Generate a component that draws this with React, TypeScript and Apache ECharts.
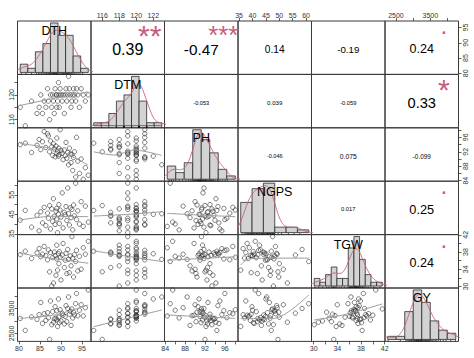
import React, { useEffect, useRef } from "react";
import * as echarts from "echarts";

const varNames = ["DTH", "DTM", "PH", "NGPS", "TGW", "GY"];

const DTH = [80.3, 81.5, 83.0, 84.3, 84.8, 85.2, 85.6, 86.0, 86.4, 86.8, 87.0, 87.3, 87.5, 87.8, 88.0, 88.2, 88.4, 88.6, 88.8, 89.0, 89.0, 89.2, 89.4, 89.5, 89.6, 89.8, 90.0, 90.3, 90.5, 90.8, 91.0, 91.2, 91.4, 91.6, 91.8, 92.0, 92.2, 92.4, 92.6, 92.8, 93.0, 93.2, 93.5, 93.7, 94.0, 94.4, 94.8, 95.3, 95.8, 96.5];
const DTM = [118, 115, 119, 117, 118, 120, 117, 119, 118, 121, 119, 116, 120, 118, 120, 119, 117, 121, 120, 118, 120, 119, 122, 120, 118, 121, 120, 119, 120, 117, 120, 121, 119, 120, 123, 121, 120, 118, 119, 120, 121, 120, 119, 121, 120, 118, 121, 120, 119, 120];
const PH = [94.0, 94.4, 91.8, 93.8, 95.4, 92.6, 94.8, 97.6, 93.2, 97.0, 96.4, 92.0, 95.0, 93.4, 91.0, 94.2, 92.8, 90.6, 93.6, 91.5, 95.8, 92.2, 90.8, 93.0, 91.2, 98.1, 92.4, 91.6, 89.8, 92.5, 91.0, 94.6, 90.2, 91.8, 88.4, 93.0, 91.4, 89.0, 91.3, 86.8, 90.4, 92.0, 85.0, 96.0, 89.4, 86.0, 90.0, 84.4, 87.6, 85.5];
const NGPS = [42.0, 47.0, 38.4, 44.5, 36.5, 46.3, 40.6, 48.6, 39.2, 45.6, 43.0, 49.5, 37.5, 47.8, 41.4, 53.0, 44.0, 39.8, 46.6, 42.6, 48.0, 35.6, 45.0, 50.0, 40.3, 47.2, 43.6, 56.0, 38.0, 46.0, 44.8, 49.0, 41.8, 58.5, 45.3, 39.5, 48.3, 43.3, 47.5, 37.0, 49.8, 44.2, 61.0, 42.3, 46.8, 40.0, 51.5, 38.8, 49.2, 41.0];
const TGW = [37.4, 38.2, 36.5, 37.8, 38.8, 36.9, 37.5, 39.3, 37.2, 36.2, 38.5, 33.4, 37.9, 30.1, 36.7, 30.8, 38.0, 37.2, 32.6, 39.6, 36.4, 33.8, 37.6, 35.3, 38.1, 36.8, 31.5, 37.3, 40.0, 34.4, 36.1, 37.7, 33.0, 38.6, 36.3, 33.2, 37.1, 34.8, 41.6, 36.6, 32.2, 37.4, 35.8, 38.4, 33.6, 37.0, 34.0, 39.0, 37.5, 40.5];
const GY = [3100, 2620, 3160, 3060, 3250, 3740, 2900, 3290, 3020, 3330, 3130, 2260, 3800, 2850, 3370, 2950, 3080, 3570, 3110, 3040, 3410, 2780, 3880, 3150, 2930, 3450, 3000, 3310, 3230, 2880, 3180, 3610, 2970, 3500, 3960, 3270, 3390, 2820, 3480, 3120, 3350, 3240, 3690, 4100, 3210, 3430, 3650, 3200, 3530, 4240];

const breaksDTH = [80, 82, 84, 86, 88, 90, 92, 94, 96, 98];
const breaksDTM = [114, 115, 116, 117, 118, 119, 120, 121, 122, 123];
const breaksPH = [84, 86, 88, 90, 92, 94, 96, 98, 100];
const breaksNGPS = [35, 40, 45, 50, 55, 60, 65];
const breaksTGW = [30, 31, 32, 33, 34, 35, 36, 37, 38, 39, 40, 41, 42];
const breaksGY = [2250, 2500, 2750, 3000, 3250, 3500, 3750, 4000, 4250];

const ticksDTH = [80, 85, 90, 95];
const ticksDTM = [116, 118, 120, 122];
const ticksPH = [84, 86, 88, 90, 92, 94, 96, 98];
const ticksNGPS = [35, 40, 45, 50, 55, 60];
const ticksTGW = [30, 32, 34, 36, 38, 40, 42];
const ticksGY = [2500, 3000, 3500, 4000];

const labelsDTH = [80, 85, 90, 95];
const labelsDTMTop = [116, 118, 120, 122];
const labelsDTMLeft = [116, 120];
const labelsPH = [84, 88, 92, 96];
const labelsNGPSTop = [35, 40, 45, 50, 55, 60];
const labelsNGPSLeft = [35, 45, 55];
const labelsTGW = [30, 34, 38, 42];
const labelsGY = [2500, 3500];

// smoothed (lowess) lines: [x, y] with x = column variable, y = row variable
const smooth_DTM_DTH = [[80.3, 118.3], [88, 119.4], [96.5, 120.5]];
const smooth_PH_DTH = [[80.3, 94.3], [87.4, 93.0], [91, 91.6], [96.5, 88.3]];
const smooth_NGPS_DTH = [[80.3, 42.1], [88, 44.0], [96.5, 43.8]];
const smooth_TGW_DTH = [[80.3, 37.7], [87.4, 36.6], [96.5, 35.4]];
const smooth_GY_DTH = [[80.3, 3105], [88.5, 3240], [96.5, 3640]];
const smooth_PH_DTM = [[115, 92.0], [117.5, 91.1], [119.7, 92.5], [123, 91.0]];
const smooth_NGPS_DTM = [[115, 44.1], [119, 45.0], [123, 46.3]];
const smooth_TGW_DTM = [[115, 38.3], [119, 37.0], [123, 35.8]];
const smooth_GY_DTM = [[115, 2770], [123, 3440]];
const smooth_NGPS_PH = [[84.4, 45.5], [91, 44.6], [98.1, 43.8]];
const smooth_TGW_PH = [[84.4, 36.1], [98.1, 36.9]];
const smooth_GY_PH = [[84.4, 3240], [98.1, 3100]];
const smooth_TGW_NGPS = [[35.6, 35.0], [39, 36.5], [61, 36.6]];
const smooth_GY_NGPS = [[35.6, 3100], [47.8, 3100], [61, 4040]];
const smooth_GY_TGW = [[30.1, 3040], [35, 3240], [41.6, 3680]];

// correlations (upper triangle, row by row) and significance symbols
const corrRow1 = ["0.39", "-0.47", "0.14", "-0.19", "0.24"];
const corrRow2 = ["-0.053", "0.039", "-0.059", "0.33"];
const corrRow3 = ["-0.046", "0.075", "-0.099"];
const corrRow4 = ["0.017", "0.25"];
const corrRow5 = ["0.24"];
const starsRow1 = ["**", "***", "", "", "."];
const starsRow2 = ["", "", "", "*"];
const starsRow3 = ["", "", ""];
const starsRow4 = ["", "."];
const starsRow5 = ["."];

const FONT = "'Liberation Sans', Arial, Helvetica, sans-serif";
const L0 = 17.5;
const T0 = 21;
const CW = 73.5;
const CH = 53.4;
const STAR_COLOR = "#C65C80";

function rangeOf(v: number[]) {
  const mn = Math.min(...v);
  const mx = Math.max(...v);
  const p = 0.04 * (mx - mn);
  return [mn - p, mx + p];
}

function histCounts(v: number[], br: number[]) {
  const c = new Array(br.length - 1).fill(0);
  for (const x of v) {
    for (let b = 0; b < br.length - 1; b++) {
      const lo = br[b];
      const hi = br[b + 1];
      if ((x > lo || (b === 0 && x >= lo)) && x <= hi) {
        c[b]++;
        break;
      }
    }
  }
  return c;
}

function q7(sorted: number[], p: number) {
  const h = (sorted.length - 1) * p;
  const lo = Math.floor(h);
  const hi = Math.min(lo + 1, sorted.length - 1);
  return sorted[lo] + (h - lo) * (sorted[hi] - sorted[lo]);
}

function kde(v: number[]) {
  const n = v.length;
  const mean = v.reduce((a, b) => a + b, 0) / n;
  const sd = Math.sqrt(v.reduce((a, b) => a + (b - mean) * (b - mean), 0) / (n - 1));
  const s = [...v].sort((a, b) => a - b);
  const iqr = q7(s, 0.75) - q7(s, 0.25);
  const lo = Math.min(sd, iqr / 1.34);
  const bw = 0.9 * lo * Math.pow(n, -0.2);
  const a = s[0] - 3 * bw;
  const b = s[n - 1] + 3 * bw;
  const pts: number[][] = [];
  const M = 160;
  for (let k = 0; k <= M; k++) {
    const x = a + ((b - a) * k) / M;
    let d = 0;
    for (const xi of v) {
      const z = (x - xi) / bw;
      d += Math.exp(-0.5 * z * z);
    }
    d /= n * bw * Math.sqrt(2 * Math.PI);
    pts.push([x, d]);
  }
  return pts;
}

function emWidth(t: string) {
  let w = 0;
  for (const ch of t) {
    if (ch === ".") w += 0.278;
    else if (ch === "-") w += 0.333;
    else if (ch === "*") w += 0.389;
    else w += 0.556;
  }
  return w;
}

export default function App() {
  const ref = useRef<HTMLDivElement>(null);

  useEffect(() => {
    if (!ref.current) return;
    const chart = echarts.init(ref.current, undefined, { renderer: "svg" });

    const variables = [DTH, DTM, PH, NGPS, TGW, GY];
    const breaksList = [breaksDTH, breaksDTM, breaksPH, breaksNGPS, breaksTGW, breaksGY];
    const ticksList = [ticksDTH, ticksDTM, ticksPH, ticksNGPS, ticksTGW, ticksGY];
    const xLabelList = [labelsDTH, labelsDTMTop, labelsPH, labelsNGPSTop, labelsTGW, labelsGY];
    const yLabelList = [labelsDTH, labelsDTMLeft, labelsPH, labelsNGPSLeft, labelsTGW, labelsGY];
    const corrRows = [corrRow1, corrRow2, corrRow3, corrRow4, corrRow5];
    const starRows = [starsRow1, starsRow2, starsRow3, starsRow4, starsRow5];
    const smoothTable: Record<string, number[][]> = {
      "1-0": smooth_DTM_DTH,
      "2-0": smooth_PH_DTH,
      "3-0": smooth_NGPS_DTH,
      "4-0": smooth_TGW_DTH,
      "5-0": smooth_GY_DTH,
      "2-1": smooth_PH_DTM,
      "3-1": smooth_NGPS_DTM,
      "4-1": smooth_TGW_DTM,
      "5-1": smooth_GY_DTM,
      "3-2": smooth_NGPS_PH,
      "4-2": smooth_TGW_PH,
      "5-2": smooth_GY_PH,
      "4-3": smooth_TGW_NGPS,
      "5-3": smooth_GY_NGPS,
      "5-4": smooth_GY_TGW,
    };
    const ranges = variables.map(rangeOf);

    const grids: any[] = [];
    const xAxes: any[] = [];
    const yAxes: any[] = [];
    const series: any[] = [];
    const graphics: any[] = [];

    const tickStyle = { color: "#3a3a3a", width: 0.8 };
    const labelBase = { fontSize: 7, color: "#333", fontFamily: FONT, formatter: (v: number) => String(v) };

    for (let i = 0; i < 6; i++) {
      for (let j = 0; j < 6; j++) {
        const idx = i * 6 + j;
        const left = L0 + j * CW;
        const top = T0 + i * CH;
        grids.push({
          left,
          top,
          width: CW,
          height: CH,
          show: true,
          borderColor: "#3a3a3a",
          borderWidth: 1,
          backgroundColor: "transparent",
          containLabel: false,
          outerBoundsMode: "none",
        });

        let xr: number[];
        let yr: number[];
        let histData: number[][] = [];
        let dens: number[][] = [];
        if (i === j) {
          const br = breaksList[i];
          const v = variables[i];
          const span = br[br.length - 1] - br[0];
          xr = [br[0] - 0.04 * span, br[br.length - 1] + 0.04 * span];
          const counts = histCounts(v, br);
          histData = counts.map((c, b) => [br[b], br[b + 1], c / (v.length * (br[b + 1] - br[b]))]);
          const dmax = Math.max(...histData.map((d) => d[2]));
          yr = [-0.04 * dmax, 1.04 * dmax];
          dens = kde(v);
        } else {
          xr = ranges[j];
          yr = ranges[i];
        }

        const xTop = i === 0 && j % 2 === 1;
        const xBottom = i === 5 && j % 2 === 0;
        const yLeft = j === 0 && i % 2 === 1;
        const yRight = j === 5 && i % 2 === 0;

        xAxes.push({
          gridIndex: idx,
          type: "value",
          min: xr[0],
          max: xr[1],
          position: xTop ? "top" : "bottom",
          axisLine: { show: false },
          splitLine: { show: false },
          axisTick: { show: xTop || xBottom, length: 3, inside: false, lineStyle: tickStyle, customValues: ticksList[j] },
          axisLabel: { show: xTop || xBottom, customValues: xLabelList[j], margin: xTop ? 2.5 : 3.5, ...labelBase },
        });
        yAxes.push({
          gridIndex: idx,
          type: "value",
          min: yr[0],
          max: yr[1],
          position: yRight ? "right" : "left",
          axisLine: { show: false },
          splitLine: { show: false },
          axisTick: { show: yLeft || yRight, length: 3, inside: false, lineStyle: tickStyle, customValues: ticksList[i] },
          axisLabel: { show: yLeft || yRight, customValues: yLabelList[i], rotate: 90, margin: yLeft ? 2.5 : 3, ...labelBase },
        });

        if (i === j) {
          const ymin = yr[0];
          const ymax = yr[1];
          series.push({
            type: "custom",
            xAxisIndex: idx,
            yAxisIndex: idx,
            data: histData,
            encode: { x: [0, 1], y: 2 },
            silent: true,
            z: 2,
            renderItem: (_p: any, api: any) => {
              const p0 = api.coord([api.value(0), 0]);
              const p1 = api.coord([api.value(1), api.value(2)]);
              return {
                type: "rect",
                shape: { x: p0[0], y: p1[1], width: p1[0] - p0[0], height: p0[1] - p1[1] },
                style: { fill: "#D3D3D3", stroke: "#2a2a2a", lineWidth: 0.8 },
              };
            },
          });
          series.push({
            type: "line",
            xAxisIndex: idx,
            yAxisIndex: idx,
            data: dens,
            symbol: "none",
            silent: true,
            clip: true,
            z: 3,
            lineStyle: { color: "#C9606E", width: 0.9 },
          });
          series.push({
            type: "custom",
            xAxisIndex: idx,
            yAxisIndex: idx,
            data: variables[i].map((x) => [x, ymin]),
            encode: { x: 0, y: 1 },
            silent: true,
            z: 4,
            renderItem: (_p: any, api: any) => {
              const x = api.value(0);
              const a = api.coord([x, ymin]);
              const b = api.coord([x, ymin + 0.03 * (ymax - ymin)]);
              return {
                type: "line",
                shape: { x1: a[0], y1: a[1], x2: b[0], y2: b[1] },
                style: { stroke: "#111", lineWidth: 0.7 },
              };
            },
          });
          graphics.push({
            type: "text",
            x: left + CW / 2,
            y: top + 10.4,
            z: 100,
            style: {
              text: varNames[i],
              fontSize: 12.5,
              fontFamily: FONT,
              fill: "#000",
              align: "center",
              verticalAlign: "middle",
            },
          });
        } else if (i > j) {
          const xs = variables[j];
          const ys = variables[i];
          series.push({
            type: "scatter",
            xAxisIndex: idx,
            yAxisIndex: idx,
            data: xs.map((x, k) => [x, ys[k]]),
            symbol: "circle",
            symbolSize: 4.4,
            silent: true,
            z: 2,
            itemStyle: { color: "rgba(0,0,0,0)", borderColor: "#2a2a2a", borderWidth: 0.75 },
          });
          series.push({
            type: "line",
            xAxisIndex: idx,
            yAxisIndex: idx,
            data: smoothTable[`${i}-${j}`],
            symbol: "none",
            smooth: 0.3,
            silent: true,
            z: 3,
            lineStyle: { color: "#9c9c9c", width: 1 },
          });
        } else {
          const txt = corrRows[i][j - i - 1];
          const sig = starRows[i][j - i - 1];
          const r = Math.abs(parseFloat(txt));
          const base = (0.8 * CW) / emWidth(txt);
          const fs = (base * (r + 0.3)) / 1.3;
          graphics.push({
            type: "text",
            x: left + CW / 2,
            y: top + CH / 2 + 1.5,
            z: 100,
            style: {
              text: txt,
              fontSize: fs,
              fontFamily: FONT,
              fill: "#000",
              align: "center",
              verticalAlign: "middle",
            },
          });
          if (sig) {
            const ay = top + 0.2 * CH;
            const isDot = sig === ".";
            const fsSig = isDot ? base * 0.8 : base;
            const yy = isDot ? ay - 0.25 * fsSig : ay + 0.13 * fsSig;
            graphics.push({
              type: "text",
              x: left + 0.8 * CW,
              y: yy,
              z: 100,
              style: {
                text: sig,
                fontSize: fsSig,
                fontFamily: FONT,
                fill: STAR_COLOR,
                align: "center",
                verticalAlign: "middle",
              },
            });
          }
        }
      }
    }

    chart.setOption({
      animation: false,
      backgroundColor: "#ffffff",
      grid: grids,
      xAxis: xAxes,
      yAxis: yAxes,
      series,
      graphic: { elements: graphics },
    });

    return () => {
      chart.dispose();
    };
  }, []);

  return (
    <div
      ref={ref}
      style={{ position: "absolute", left: 0, top: 0, width: 474, height: 358, background: "#fff" }}
    />
  );
}
